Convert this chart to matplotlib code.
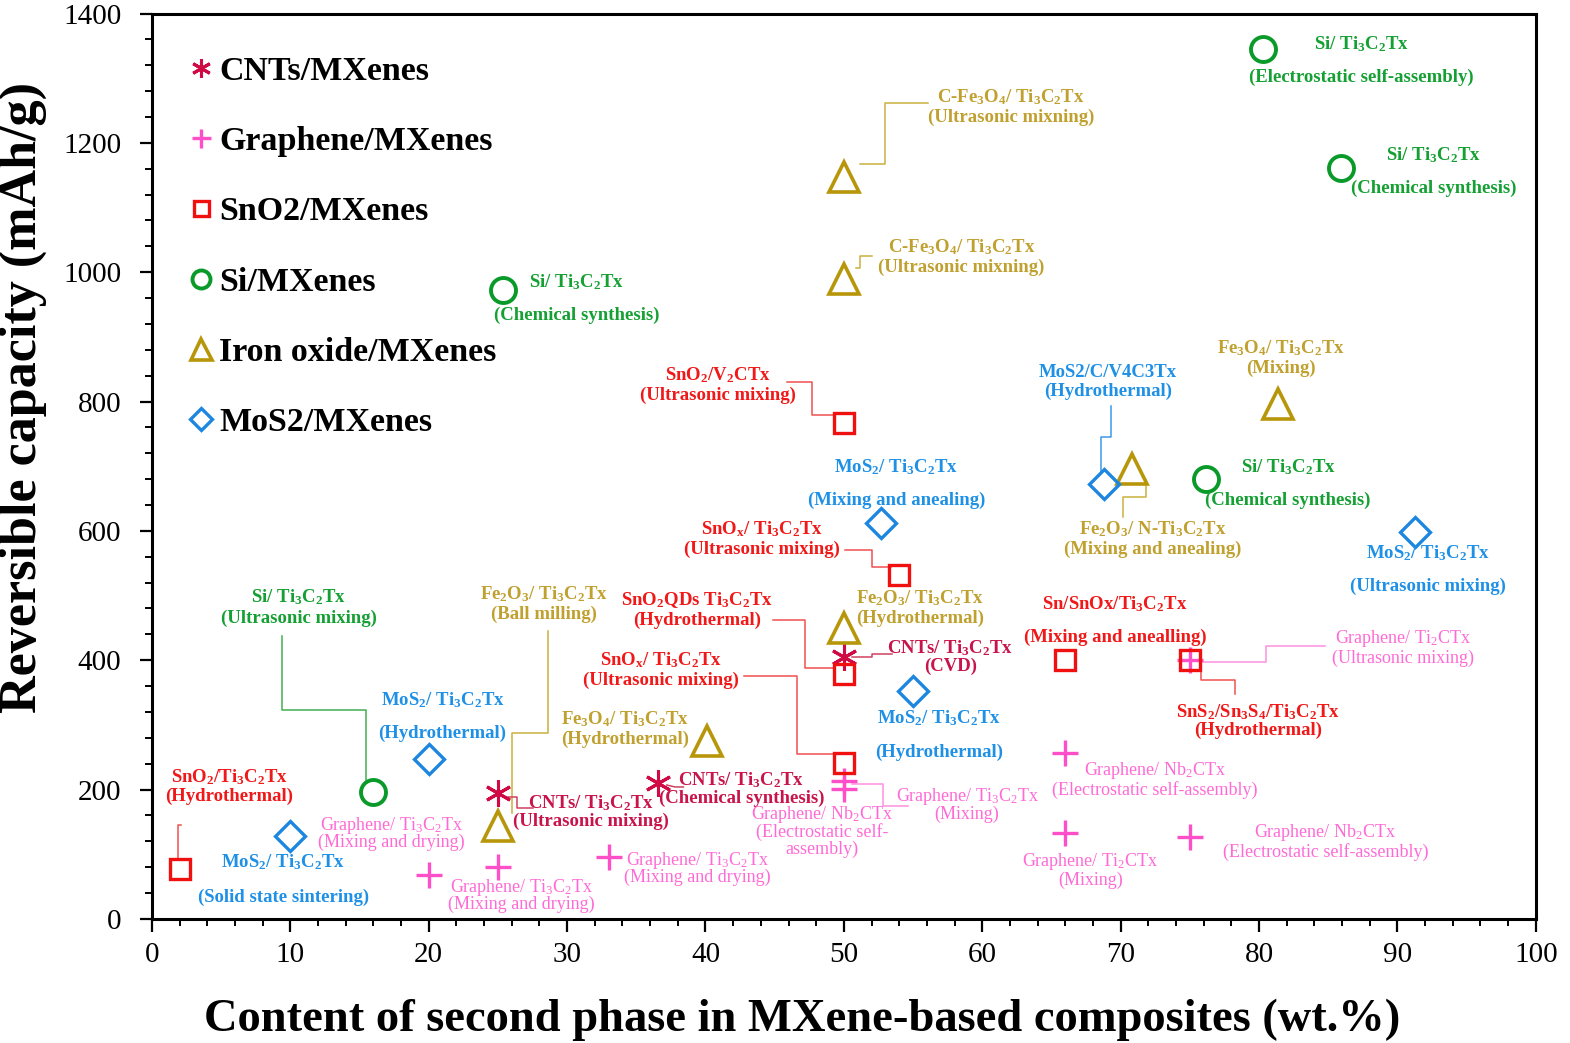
import re
import matplotlib
matplotlib.use('Agg')
import matplotlib.pyplot as plt
from matplotlib.ticker import MultipleLocator

plt.rcParams['font.family'] = ['Liberation Serif', 'DejaVu Serif']
plt.rcParams['mathtext.fontset'] = 'custom'
plt.rcParams['mathtext.rm'] = 'Liberation Serif'
plt.rcParams['mathtext.bf'] = 'Liberation Serif:bold'
plt.rcParams['mathtext.it'] = 'Liberation Serif:italic'

# ---- data (wt.% , mAh/g) ----
cnt_x = [25, 36.6, 50]
cnt_y = [195, 210, 405]
gr_x = [20, 25, 33, 50, 50, 66, 66, 75, 75]
gr_y = [68, 81, 96, 213, 201, 257, 133, 127, 400]
sno2_x = [2, 50, 54, 50, 50, 66, 75]
sno2_y = [77, 767, 532, 378, 241, 400, 400]
si_x = [80.3, 85.9, 25.4, 76.2, 16]
si_y = [1345, 1161, 972, 680, 196]
fe_x = [50, 50, 81.4, 70.8, 50, 40.1, 25]
fe_y = [1148, 989, 796, 695, 450, 275, 144]
mos2_x = [10, 20, 52.7, 55, 68.8, 91.3]
mos2_y = [128, 247, 612, 352, 672, 598]

names = ['CNTs/MXenes', 'Graphene/MXenes', 'SnO2/MXenes', 'Si/MXenes',
         'Iron oxide/MXenes', 'MoS2/MXenes']

# marker colours and (lighter) annotation colours
col = {'cnt': '#CF0A45', 'gr': '#FF4FC8', 'sn': '#F01010', 'si': '#0A9A2A',
       'fe': '#B8960A', 'mo': '#1C86E0'}
txtcol = {'cnt': '#C8144A', 'gr': '#FF6AD6', 'sn': '#F01818', 'si': '#14A032',
          'fe': '#C0A02E', 'mo': '#1E90E6'}
linecol = {'cnt': '#D04060', 'gr': '#FF90E0', 'sn': '#F05050', 'si': '#40B050',
           'fe': '#CCB040', 'mo': '#3A9AEA'}

# annotation texts: lines, group, x centre, y of each line
labels = [
    (['Si/ Ti_3C_2Tx', '(Electrostatic self-assembly)'], 'si', 87.4, [1352, 1301]),
    (['Si/ Ti_3C_2Tx', '(Chemical synthesis)'], 'si', 92.6, [1181, 1130]),
    (['C-Fe_3O_4/ Ti_3C_2Tx', '(Ultrasonic mixning)'], 'fe', 62.1, [1270, 1240]),
    (['C-Fe_3O_4/ Ti_3C_2Tx', '(Ultrasonic mixning)'], 'fe', 58.5, [1039, 1008]),
    (['Si/ Ti_3C_2Tx', '(Chemical synthesis)'], 'si', 30.7, [985, 934]),
    (['SnO_2/V_2CTx', '(Ultrasonic mixing)'], 'sn', 40.9, [841, 810]),
    (['MoS2/C/V4C3Tx', '(Hydrothermal)'], 'mo', 69.1, [845, 816]),
    (['Fe_3O_4/ Ti_3C_2Tx', '(Mixing)'], 'fe', 81.6, [883, 852]),
    (['MoS_2/ Ti_3C_2Tx', '(Mixing and anealing)'], 'mo', 53.8, [699, 648]),
    (['Si/ Ti_3C_2Tx', '(Chemical synthesis)'], 'si', 82.1, [699, 648]),
    (['Fe_2O_3/ N-Ti_3C_2Tx', '(Mixing and anealing)'], 'fe', 72.3, [603, 572]),
    (['SnO_x/ Ti_3C_2Tx', '(Ultrasonic mixing)'], 'sn', 44.1, [603, 572]),
    (['MoS_2/ Ti_3C_2Tx', '(Ultrasonic mixing)'], 'mo', 92.2, [566, 515]),
    (['Si/ Ti_3C_2Tx', '(Ultrasonic mixing)'], 'si', 10.6, [498, 465]),
    (['Fe_2O_3/ Ti_3C_2Tx', '(Ball milling)'], 'fe', 28.3, [502, 471]),
    (['SnO_2QDs Ti_3C_2Tx', '(Hydrothermal)'], 'sn', 39.4, [493, 462]),
    (['Fe_2O_3/ Ti_3C_2Tx', '(Hydrothermal)'], 'fe', 55.5, [496, 464]),
    (['Sn/SnOx/Ti_3C_2Tx', '(Mixing and anealling)'], 'sn', 69.6, [487, 436]),
    (['Graphene/ Ti_2CTx', '(Ultrasonic mixing)'], 'gr', 90.4, [434, 403]),
    (['SnS_2/Sn_3S_4/Ti_3C_2Tx', '(Hydrothermal)'], 'sn', 79.9, [320, 291]),
    (['CNTs/ Ti_3C_2Tx', '(CVD)'], 'cnt', 57.7, [419, 391]),
    (['SnO_x/ Ti_3C_2Tx', '(Ultrasonic mixing)'], 'sn', 36.8, [400, 369]),
    (['MoS_2/ Ti_3C_2Tx', '(Hydrothermal)'], 'mo', 21.0, [338, 287]),
    (['MoS_2/ Ti_3C_2Tx', '(Hydrothermal)'], 'mo', 56.9, [311, 258]),
    (['Fe_3O_4/ Ti_3C_2Tx', '(Hydrothermal)'], 'fe', 34.2, [309, 278]),
    (['SnO_2/Ti_3C_2Tx', '(Hydrothermal)'], 'sn', 5.6, [219, 190]),
    (['CNTs/ Ti_3C_2Tx', '(Ultrasonic mixing)'], 'cnt', 31.7, [179, 151]),
    (['CNTs/ Ti_3C_2Tx', '(Chemical synthesis)'], 'cnt', 42.6, [215, 187]),
    (['Graphene/ Nb_2CTx', '(Electrostatic self-', 'assembly)'], 'gr', 48.4, [161, 134, 108]),
    (['Graphene/ Ti_3C_2Tx', '(Mixing)'], 'gr', 58.9, [189, 162]),
    (['Graphene/ Nb_2CTx', '(Electrostatic self-assembly)'], 'gr', 72.5, [230, 199]),
    (['Graphene/ Ti_3C_2Tx', '(Mixing and drying)'], 'gr', 17.3, [145, 119]),
    (['MoS_2/ Ti_3C_2Tx', '(Solid state sintering)'], 'mo', 9.5, [87, 34]),
    (['Graphene/ Ti_3C_2Tx', '(Mixing and drying)'], 'gr', 26.7, [49, 22]),
    (['Graphene/ Ti_3C_2Tx', '(Mixing and drying)'], 'gr', 39.4, [91, 65]),
    (['Graphene/ Ti_2CTx', '(Mixing)'], 'gr', 67.8, [88, 59]),
    (['Graphene/ Nb_2CTx', '(Electrostatic self-assembly)'], 'gr', 84.8, [134, 104]),
]

# elbow leader lines from labels to markers
leaders = [
    ('fe', [51.2, 53.0, 53.0, 56.1], [1168, 1168, 1261, 1261]),
    ('fe', [50.9, 51.2, 51.2, 52.0], [1006, 1006, 1025, 1025]),
    ('sn', [45.9, 47.7, 47.7, 49.3], [830, 830, 779, 779]),
    ('mo', [69.3, 69.3, 68.6, 68.6], [793, 745, 745, 689]),
    ('fe', [71.8, 71.8, 70.2, 70.2], [679, 652, 652, 621]),
    ('sn', [50.1, 52.0, 52.0, 53.4], [570, 570, 544, 544]),
    ('si', [9.4, 9.4, 15.5, 15.5], [437, 323, 323, 214]),
    ('fe', [28.6, 28.6, 26.0, 26.0], [445, 287, 287, 163]),
    ('sn', [44.9, 47.2, 47.2, 49.3], [462, 462, 388, 388]),
    ('gr', [75.7, 80.5, 80.5, 84.8], [397, 397, 422, 422]),
    ('sn', [75.8, 75.8, 78.3, 78.3], [385, 369, 369, 348]),
    ('cnt', [50.6, 52.0, 52.0, 53.5], [405, 405, 410, 410]),
    ('sn', [42.8, 46.6, 46.6, 49.3], [376, 376, 255, 255]),
    ('sn', [2.1, 1.9, 1.9], [145, 145, 92]),
    ('cnt', [25.7, 26.4, 26.4, 27.5], [189, 189, 172, 172]),
    ('cnt', [37.2, 37.8, 38.4], [207, 204, 204]),
    ('gr', [50.6, 52.8, 52.8, 54.6], [209, 209, 175, 175]),
]


def chem(s, bold=True):
    cmd = 'mathbf' if bold else 'mathrm'
    return re.sub(r'_(\w)', lambda m: '$_\\' + cmd + '{' + m.group(1) + '}$', s)


fig = plt.figure(figsize=(15.70, 10.43), dpi=100)
ax = fig.add_axes([0.0968, 0.119, 0.8814, 0.868])

kw = dict(linestyle='none', markerfacecolor='none', zorder=3)
ax.plot(cnt_x, cnt_y, marker=(6, 2, 0), markersize=19, mew=2.2, color=col['cnt'], label=names[0], **kw)
ax.plot(gr_x, gr_y, marker='+', markersize=19, mew=2.4, color=col['gr'], label=names[1], **kw)
ax.plot(sno2_x, sno2_y, marker='s', markersize=15, mew=2.4, color=col['sn'], label=names[2], **kw)
ax.plot(si_x, si_y, marker='o', markersize=18, mew=2.8, color=col['si'], label=names[3], **kw)
ax.plot(fe_x, fe_y, marker='^', markersize=21, mew=2.6, color=col['fe'], label=names[4], **kw)
ax.plot(mos2_x, mos2_y, marker='D', markersize=15, mew=2.4, color=col['mo'], label=names[5], **kw)

for key, xs, ys in leaders:
    ax.plot(xs, ys, color=linecol[key], lw=1.1, zorder=2)

for lines, key, x, ys in labels:
    bold = key != 'gr'
    for txt, y in zip(lines, ys):
        ax.text(x, y, chem(txt, bold), color=txtcol[key], ha='center', va='center',
                fontsize=13.5 if bold else 13, fontweight='bold' if bold else 'normal',
                zorder=4)

ax.set_xlim(0, 100)
ax.set_ylim(0, 1400)
ax.xaxis.set_major_locator(MultipleLocator(10))
ax.xaxis.set_minor_locator(MultipleLocator(2))
ax.yaxis.set_major_locator(MultipleLocator(200))
ax.yaxis.set_minor_locator(MultipleLocator(40))
ax.tick_params(which='major', direction='out', length=9, width=1.6, labelsize=21)
ax.tick_params(which='minor', direction='out', length=5, width=1.4)
ax.tick_params(axis='x', which='major', pad=8)
ax.tick_params(axis='y', which='major', pad=13)
for sp in ax.spines.values():
    sp.set_linewidth(2.2)

ax.set_xlabel('Content of second phase in MXene-based composites (wt.%)',
              fontsize=33.5, fontweight='bold')
ax.set_ylabel('Reversible capacity (mAh/g)', fontsize=37.5, fontweight='bold')
ax.xaxis.set_label_coords(0.470, -0.088)
ax.yaxis.set_label_coords(-0.076, 0.576)

leg = ax.legend(loc='upper left', bbox_to_anchor=(0.016, 0.968), frameon=False,
                markerscale=0.72, handlelength=0.8, handletextpad=0.12,
                labelspacing=1.15, borderaxespad=0,
                prop={'family': 'Liberation Serif', 'weight': 'bold', 'size': 24.5})

fig.savefig('out.png', dpi=100)
